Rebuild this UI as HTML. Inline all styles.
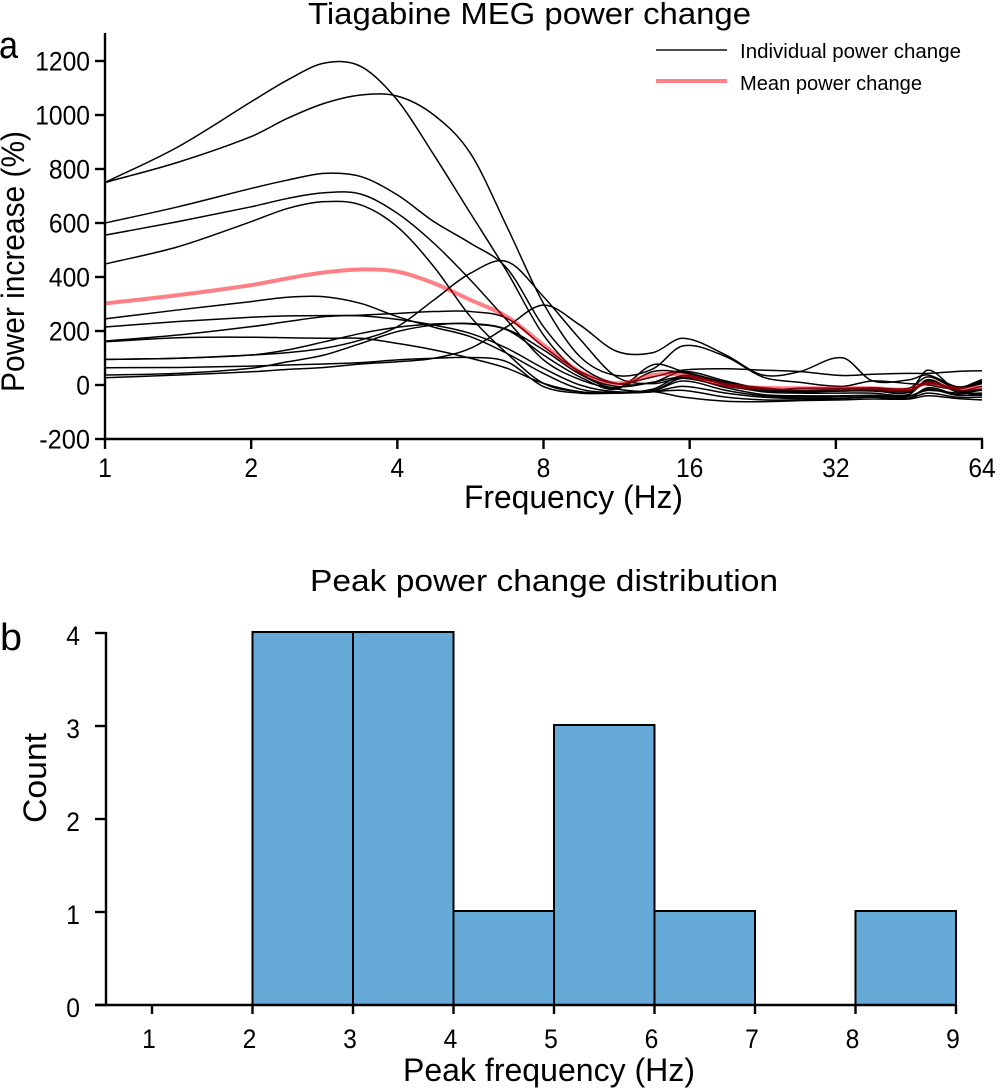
<!DOCTYPE html>
<html lang="en">
<head>
<meta charset="utf-8">
<title>Tiagabine MEG power change</title>
<style>
html,body{margin:0;padding:0;background:#fff;}
svg{display:block;}
text{font-family:"Liberation Sans",sans-serif;fill:#000;}
</style>
</head>
<body>
<svg id="figure" width="1000" height="1089" viewBox="0 0 1000 1089" xmlns="http://www.w3.org/2000/svg">
  <g id="panel-a">
    <text x="-1" y="58" font-size="38" textLength="19" lengthAdjust="spacingAndGlyphs">a</text>
    <text x="308" y="24" font-size="31" textLength="443" lengthAdjust="spacingAndGlyphs">Tiagabine MEG power change</text>
    <g id="lines-a"></g>
    <g id="axes-a"></g>
    <text x="464" y="508" font-size="32" textLength="219" lengthAdjust="spacingAndGlyphs">Frequency (Hz)</text>
    <text transform="translate(24,392) rotate(-90)" font-size="32" textLength="261" lengthAdjust="spacingAndGlyphs">Power increase (%)</text>
    <g>
      <line x1="656" y1="50" x2="727" y2="50" stroke="#111" stroke-width="1.6"/>
      <text x="740" y="58" font-size="20" textLength="221" lengthAdjust="spacingAndGlyphs">Individual power change</text>
      <line x1="656" y1="81" x2="727" y2="81" stroke="#ff8085" stroke-width="4"/>
      <text x="740" y="90" font-size="20" textLength="182" lengthAdjust="spacingAndGlyphs">Mean power change</text>
    </g>
  </g>
  <g id="panel-b">
    <text x="0" y="650" font-size="38" textLength="22" lengthAdjust="spacingAndGlyphs">b</text>
    <text x="310" y="591" font-size="31" textLength="468" lengthAdjust="spacingAndGlyphs">Peak power change distribution</text>
    <g id="bars-b"></g>
    <g id="axes-b"></g>
    <text x="403" y="1081" font-size="32" textLength="292" lengthAdjust="spacingAndGlyphs">Peak frequency (Hz)</text>
    <text transform="translate(46,823) rotate(-90)" font-size="32" textLength="90" lengthAdjust="spacingAndGlyphs">Count</text>
  </g>
</svg>
<script>
const frequencies = [1,1.414,2,2.378,2.828,3.364,4,4.757,5.657,6.727,8,9.51,11.31,13.45,15.5,19,22.6,26.9,33,38,45.25,49.5,56.8,64];
const subject01 = [750,882,1049,1130,1192,1180,1055,852,636,420,185,45,-5,10,30,5,-10,-20,-22,-22,-28,10,-22,-15];
const subject02 = [750,825,920,988,1043,1074,1070,1000,858,586,302,105,35,60,145,105,30,10,-5,15,5,0,-15,5];
const subject03 = [600,660,728,759,784,772,704,605,525,432,216,70,5,10,50,15,-15,-25,-20,-20,-25,55,-18,-5];
const subject04 = [555,605,660,691,712,707,636,525,389,240,93,20,-15,-20,25,-10,-35,-40,-40,-38,-40,-20,-30,-30];
const subject05 = [448,512,605,654,679,667,586,438,253,117,6,-25,-30,-25,-20,-45,-55,-55,-50,-45,-48,-30,-45,-45];
const subject06 = [245,278,309,325,327,302,253,214,179,117,43,-15,-28,-22,15,-20,-40,-45,-42,-40,-42,-15,-38,-32];
const subject07 = [215,235,251,256,257,256,243,222,191,136,62,0,-25,-15,35,0,-25,-30,-30,-30,-35,20,-25,-20];
const subject08 = [163,185,216,235,253,259,265,272,272,247,142,50,5,30,55,60,55,50,35,40,43,43,50,53];
const subject09 = [160,175,177,175,173,173,154,130,99,62,6,-25,-30,-25,-5,-30,-45,-50,-48,-45,-50,-10,-35,-38];
const subject10 = [95,99,111,130,160,191,214,226,226,204,111,30,-15,75,50,10,-15,-20,-15,-15,-18,5,-10,10];
const subject11 = [95,99,111,120,136,167,216,315,414,457,327,170,30,5,25,-5,-20,-12,-12,-10,-12,30,-10,20];
const subject12 = [64,65,70,74,78,83,93,99,102,86,-6,-30,-30,-25,-45,-60,-62,-58,-55,-52,-52,-40,-50,-55];
const subject13 = [37,43,62,86,111,154,198,222,228,206,130,40,-10,50,45,5,-20,-25,-22,-18,-22,15,-15,15];
const subject14 = [27,37,49,58,65,78,86,99,136,216,296,222,125,120,173,111,37,49,101,16,19,37,-6,6];
const meanPower = [302,333,370,395,417,428,420,377,315,253,148,49,6,37,37,0,-10,-12,-12,-12,-16,7,-14,-9];
const powerTicks = [-200,0,200,400,600,800,1000,1200];
const powerTickLabels = ['-200','0','200','400','600','800','1000','1200'];
const frequencyTicks = [1,2,4,8,16,32,64];
const frequencyTickLabels = ['1','2','4','8','16','32','64'];
const peakBinEdges = [1,2,3,4,5,6,7,8,9];
const peakBinCounts = [0,4,4,1,3,1,0,1];
const countTicks = [0,1,2,3,4];
const peakFrequencyTicks = [1,2,3,4,5,6,7,8,9];

const allSubjects = [subject01,subject02,subject03,subject04,subject05,subject06,subject07,subject08,subject09,subject10,subject11,subject12,subject13,subject14];
const NS = 'http://www.w3.org/2000/svg';

function xFreq(f){ return 105 + 146.17 * Math.log2(f); }
function yPower(v){ return 385 - 0.27 * v; }
function xPeak(v){ return 152 + 100.5 * (v - 1); }
function yCount(c){ return 1005 - 93 * c; }

function smoothPath(xs, ys){
  const n = xs.length;
  const slope = [];
  for (let i = 0; i < n; i++){
    const a = Math.max(0, i - 1), b = Math.min(n - 1, i + 1);
    slope.push((ys[b] - ys[a]) / (xs[b] - xs[a]));
  }
  let d = 'M' + xs[0].toFixed(2) + ' ' + ys[0].toFixed(2);
  for (let i = 0; i < n - 1; i++){
    const h = (xs[i+1] - xs[i]) / 3;
    d += 'C' + (xs[i] + h).toFixed(2) + ' ' + (ys[i] + slope[i] * h).toFixed(2) + ' ' +
         (xs[i+1] - h).toFixed(2) + ' ' + (ys[i+1] - slope[i+1] * h).toFixed(2) + ' ' +
         xs[i+1].toFixed(2) + ' ' + ys[i+1].toFixed(2);
  }
  return d;
}
function drawLine(parent, x1, y1, x2, y2, width){
  const el = document.createElementNS(NS, 'line');
  el.setAttribute('x1', x1);
  el.setAttribute('y1', y1);
  el.setAttribute('x2', x2);
  el.setAttribute('y2', y2);
  el.setAttribute('stroke', '#000');
  el.setAttribute('stroke-width', width);
  parent.appendChild(el);
  return el;
}
function drawText(parent, x, y, size, anchor, content, width){
  const el = document.createElementNS(NS, 'text');
  el.setAttribute('x', x);
  el.setAttribute('y', y);
  el.setAttribute('font-size', size);
  el.setAttribute('text-anchor', anchor);
  el.setAttribute('textLength', width);
  el.setAttribute('lengthAdjust', 'spacingAndGlyphs');
  el.textContent = content;
  parent.appendChild(el);
  return el;
}

const linesA = document.getElementById('lines-a');
const gridX = frequencies.map(xFreq);
allSubjects.forEach(function(series, idx){
  const p = document.createElementNS(NS, 'path');
  p.setAttribute('d', smoothPath(gridX, series.map(yPower)));
  p.setAttribute('fill', 'none');
  p.setAttribute('stroke', '#000');
  p.setAttribute('stroke-width', '1.5');
  
  
  linesA.appendChild(p);
});
const meanPath = document.createElementNS(NS, 'path');
meanPath.setAttribute('d', smoothPath(gridX, meanPower.map(yPower)));
meanPath.setAttribute('fill', 'none');
meanPath.setAttribute('stroke', '#ff0010');
meanPath.setAttribute('stroke-opacity', '0.5');
meanPath.setAttribute('stroke-width', '4');


linesA.appendChild(meanPath);

const axesA = document.getElementById('axes-a');
const yAxisA = drawLine(axesA, xFreq(1), 33, xFreq(1), yPower(-200) + 1, 2.4);


const xAxisA = drawLine(axesA, xFreq(1) - 1, yPower(-200), xFreq(64) + 1, yPower(-200), 2.4);


powerTicks.forEach(function(v, i){
  const t = drawLine(axesA, 95, yPower(v), xFreq(1), yPower(v), 2.4);
  
  
  const label = powerTickLabels[i];
  const l = drawText(axesA, 90, yPower(v) + 9.5, 27, 'end', label, label.length * 13.7 - (label[0] === '-' ? 4 : 0));
  
  
});
frequencyTicks.forEach(function(f, i){
  const t = drawLine(axesA, xFreq(f), yPower(-200), xFreq(f), 449, 2.4);
  
  
  const label = frequencyTickLabels[i];
  const l = drawText(axesA, xFreq(f), 477, 27, 'middle', label, label.length * 13.7);
  
  
});

const barsB = document.getElementById('bars-b');
peakBinCounts.forEach(function(c, i){
  if (c <= 0) return;
  const r = document.createElementNS(NS, 'rect');
  const x0 = xPeak(peakBinEdges[i]);
  const x1 = xPeak(peakBinEdges[i + 1]);
  r.setAttribute('x', x0);
  r.setAttribute('y', yCount(c) - 1);
  r.setAttribute('width', x1 - x0);
  r.setAttribute('height', yCount(0) - yCount(c) + 1);
  r.setAttribute('fill', '#66aad8');
  r.setAttribute('stroke', '#000');
  r.setAttribute('stroke-width', '2');
  
  
  barsB.appendChild(r);
});

const axesB = document.getElementById('axes-b');
const yAxisB = drawLine(axesB, 106, yCount(4) - 1, 106, yCount(0) + 1, 2.4);


const xAxisB = drawLine(axesB, 95, yCount(0), xPeak(9) + 1, yCount(0), 2.4);


countTicks.forEach(function(c){
  const t = drawLine(axesB, 95, yCount(c), 106, yCount(c), 2.4);
  
  
  const l = drawText(axesB, 80, yCount(c) + 12, 27, 'end', String(c), 13.7);
  
  
});
peakFrequencyTicks.forEach(function(v){
  const t = drawLine(axesB, xPeak(v), yCount(0), xPeak(v), 1014, 2.4);
  
  
  const l = drawText(axesB, xPeak(v) - 3, 1048, 27, 'middle', String(v), 13.7);
  
  
});
</script>
</body>
</html>
